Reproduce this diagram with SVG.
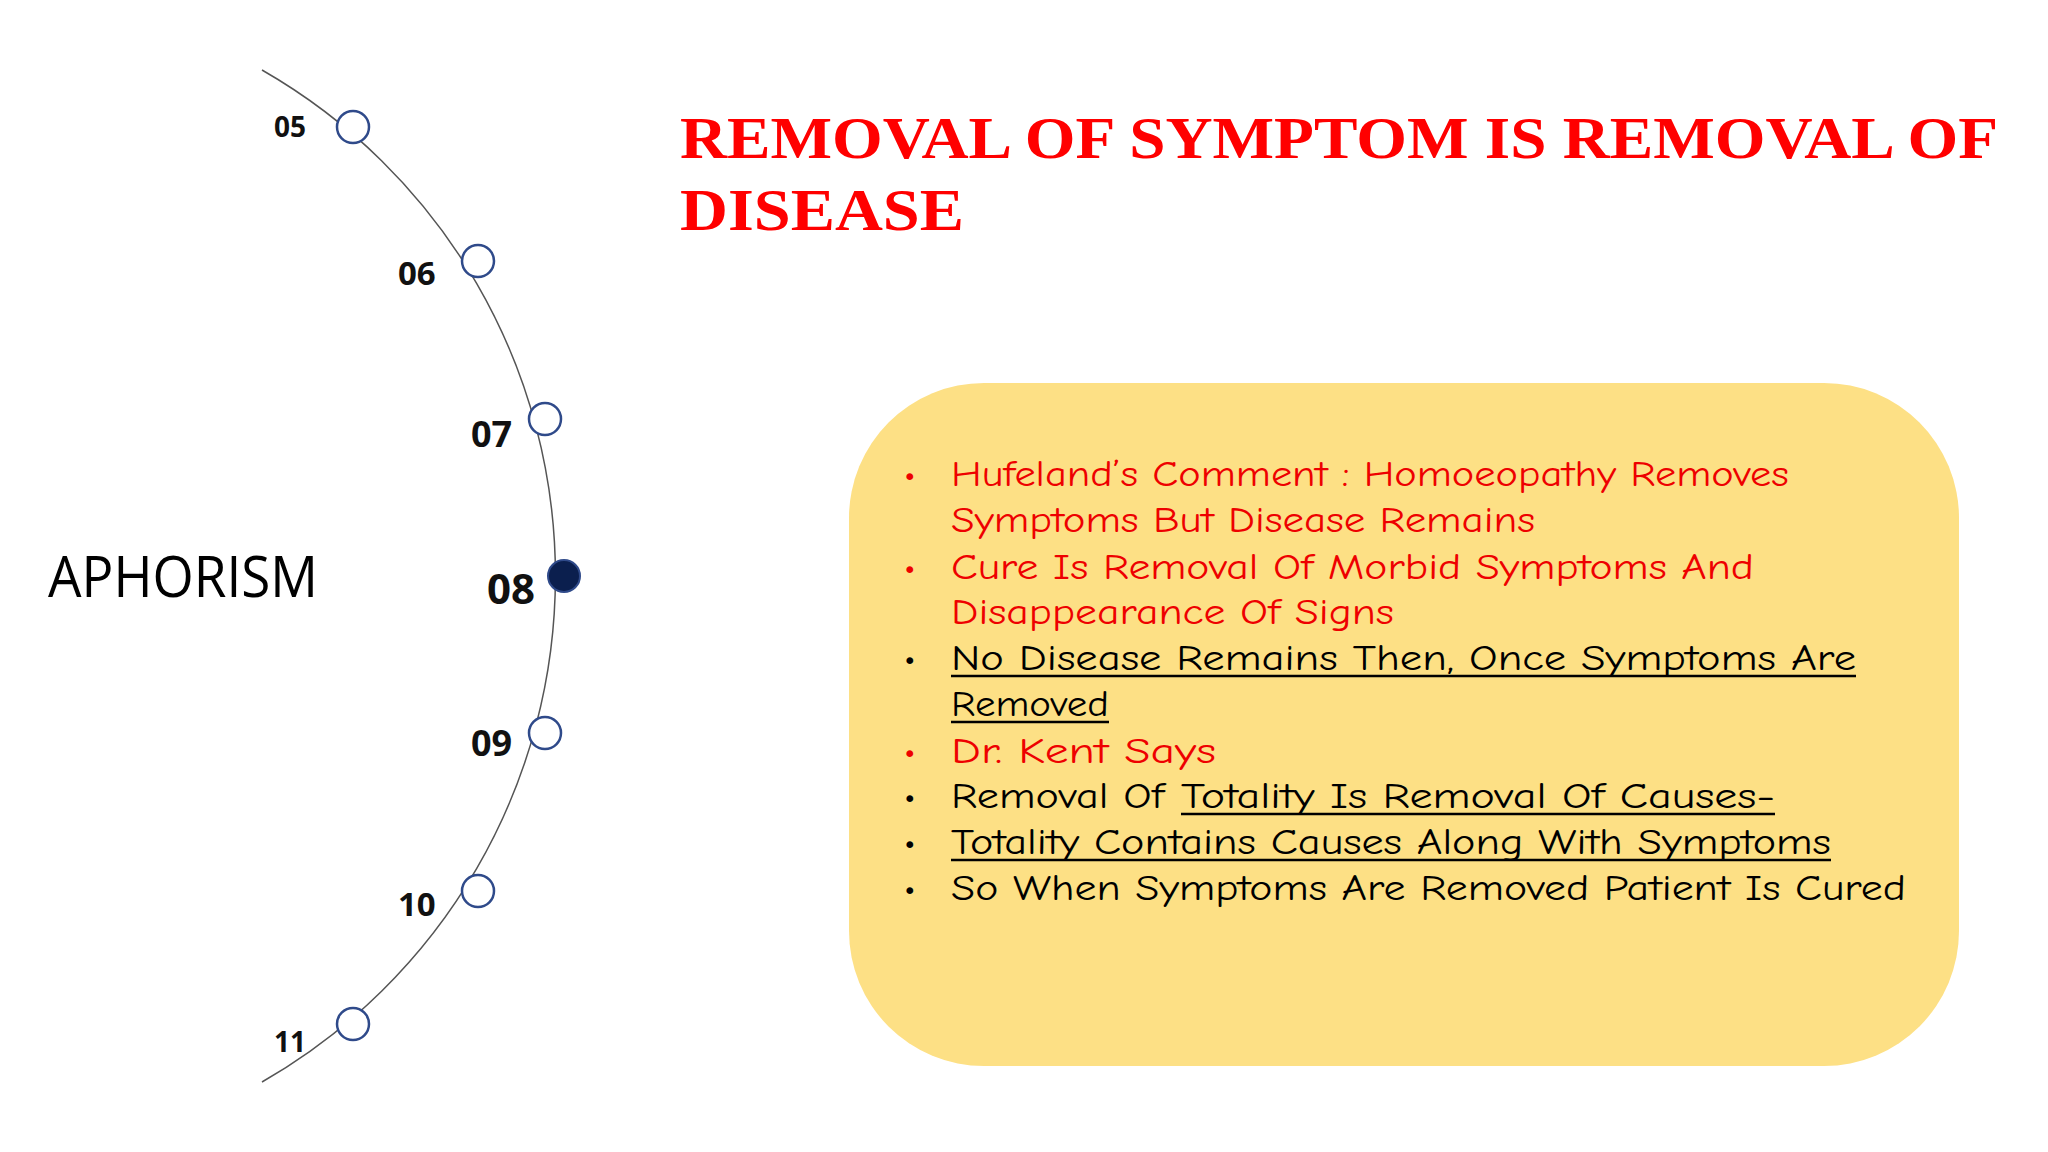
<svg xmlns="http://www.w3.org/2000/svg" width="2048" height="1152" viewBox="0 0 2048 1152">
<style>
.dot{fill:#fff;stroke:#2f4a8a;stroke-width:2.5}
.num{font-family:"Open Sans","Noto Sans",sans-serif;font-weight:bold;fill:#111}
.b{font-family:"Comic Neue","Liberation Sans",sans-serif;font-size:37px}
.r{fill:#e00}
.k{fill:#000}
.u{stroke:#000;stroke-width:2.5}
</style>
<rect width="2048" height="1152" fill="#fff"/>
<g id="arc"><path d="M 262 70 A 583 583 0 0 1 262 1082" fill="none" stroke="#555" stroke-width="1.5"/></g>
<g id="timeline">
<circle class="dot" cx="353" cy="127" r="16"/>
<circle class="dot" cx="478" cy="261" r="16"/>
<circle class="dot" cx="545" cy="419" r="16"/>
<circle cx="564" cy="576" r="16" fill="#0b1f4e" stroke="#2f4a8a" stroke-width="2"/>
<circle class="dot" cx="545" cy="733" r="16"/>
<circle class="dot" cx="478" cy="891" r="16"/>
<circle class="dot" cx="353" cy="1024" r="16"/>
<text class="num" x="274" y="137" font-size="28">05</text>
<text class="num" x="398" y="285" font-size="33">06</text>
<text class="num" x="471" y="447" font-size="36">07</text>
<text class="num" x="487" y="604" font-size="42">08</text>
<text class="num" x="471" y="756" font-size="36">09</text>
<text class="num" x="398" y="916" font-size="33">10</text>
<text class="num" x="274" y="1052" font-size="28">11</text>
</g>
<g id="aphorism"><text x="48" y="597" font-family="Open Sans,Noto Sans,sans-serif" font-size="56" textLength="270" lengthAdjust="spacingAndGlyphs" fill="#000">APHORISM</text></g>
<g id="title" font-family="Liberation Serif,serif" font-weight="bold" font-size="60" fill="#f00">
<text x="680" y="158" textLength="1318" lengthAdjust="spacingAndGlyphs">REMOVAL OF SYMPTOM IS REMOVAL OF</text>
<text x="680" y="230" textLength="284" lengthAdjust="spacingAndGlyphs">DISEASE</text>
</g>
<g id="box">
<rect x="849" y="383" width="1110" height="683" rx="135" fill="#fde085"/>
<g class="b">
<text class="r" x="904" y="486">•</text>
<text class="r" x="951" y="486" textLength="838" lengthAdjust="spacingAndGlyphs">Hufeland’s Comment : Homoeopathy Removes</text>
<text class="r" x="951" y="532" textLength="584" lengthAdjust="spacingAndGlyphs">Symptoms But Disease Remains</text>
<text class="r" x="904" y="579">•</text>
<text class="r" x="951" y="579" textLength="803" lengthAdjust="spacingAndGlyphs">Cure Is Removal Of Morbid Symptoms And</text>
<text class="r" x="951" y="624" textLength="443" lengthAdjust="spacingAndGlyphs">Disappearance Of Signs</text>
<text class="k" x="904" y="670">•</text>
<text class="k" x="951" y="670" textLength="905" lengthAdjust="spacingAndGlyphs">No Disease Remains Then,  Once Symptoms Are</text>
<text class="k" x="951" y="716" textLength="158" lengthAdjust="spacingAndGlyphs">Removed</text>
<text class="r" x="904" y="763">•</text>
<text class="r" x="951" y="763" textLength="265" lengthAdjust="spacingAndGlyphs">Dr. Kent Says</text>
<text class="k" x="904" y="808">•</text>
<text class="k" x="951" y="808" textLength="213" lengthAdjust="spacingAndGlyphs">Removal Of</text>
<text class="k" x="1181" y="808" textLength="594" lengthAdjust="spacingAndGlyphs">Totality Is Removal Of Causes-</text>
<text class="k" x="904" y="854">•</text>
<text class="k" x="951" y="854" textLength="880" lengthAdjust="spacingAndGlyphs">Totality Contains Causes Along With Symptoms</text>
<text class="k" x="904" y="900">•</text>
<text class="k" x="951" y="900" textLength="955" lengthAdjust="spacingAndGlyphs">So When Symptoms Are Removed Patient Is Cured</text>
</g>
<line class="u" x1="951" y1="676" x2="1856" y2="676"/>
<line class="u" x1="951" y1="722" x2="1109" y2="722"/>
<line class="u" x1="1181" y1="814" x2="1775" y2="814"/>
<line class="u" x1="951" y1="860" x2="1831" y2="860"/>
</g>
</svg>
